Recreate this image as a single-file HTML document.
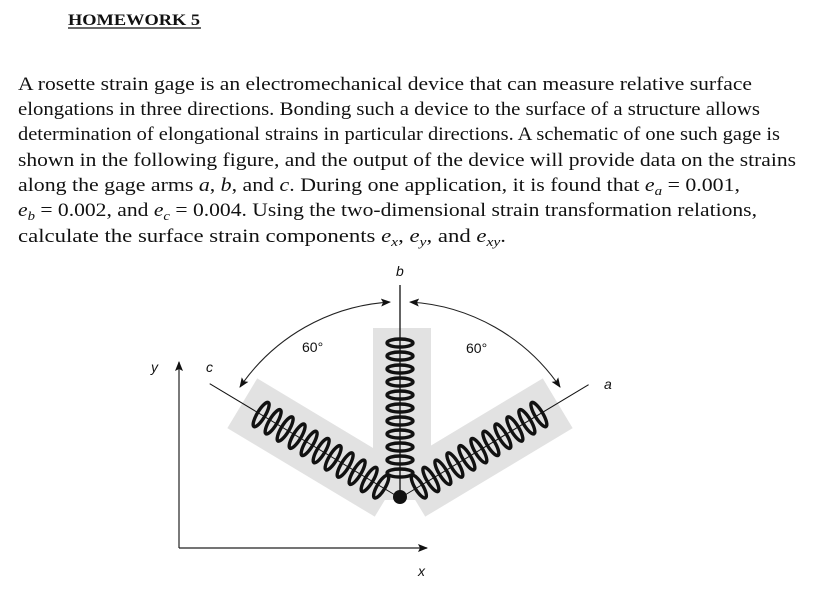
<!DOCTYPE html>
<html><head><meta charset="utf-8"><style>
html,body{margin:0;padding:0;background:#fff;}
svg{display:block}
.t{font-family:"Liberation Serif",serif;font-size:19px;fill:#111}
.s{font-family:"Liberation Sans",sans-serif;font-size:14px;fill:#111}
</style></head><body>
<svg width="813" height="592" viewBox="0 0 813 592" xmlns="http://www.w3.org/2000/svg">
<defs>
<marker id="ar" markerWidth="10" markerHeight="8" refX="9" refY="4" orient="auto-start-reverse" markerUnits="userSpaceOnUse">
<path d="M0,0 L10,4 L0,8 L2,4 Z" fill="#111"/></marker>
</defs>
<text x="68" y="25" font-family="Liberation Serif,serif" font-weight="bold" font-size="16" fill="#111" textLength="132" lengthAdjust="spacingAndGlyphs">HOMEWORK 5</text>
<line x1="68" y1="28" x2="201" y2="28" stroke="#111" stroke-width="1.2"/>
<text class="t" x="18" y="90" textLength="734" lengthAdjust="spacingAndGlyphs">A rosette strain gage is an electromechanical device that can measure relative surface</text>
<text class="t" x="18" y="115" textLength="742" lengthAdjust="spacingAndGlyphs">elongations in three directions. Bonding such a device to the surface of a structure allows</text>
<text class="t" x="18" y="140" textLength="762" lengthAdjust="spacingAndGlyphs">determination of elongational strains in particular directions. A schematic of one such gage is</text>
<text class="t" x="18" y="166" textLength="778" lengthAdjust="spacingAndGlyphs">shown in the following figure, and the output of the device will provide data on the strains</text>
<text class="t" x="18" y="191" textLength="722" lengthAdjust="spacingAndGlyphs">along the gage arms <tspan font-style="italic">a</tspan>, <tspan font-style="italic">b</tspan>, and <tspan font-style="italic">c</tspan>. During one application, it is found that <tspan font-style="italic">e</tspan><tspan font-style="italic" font-size="13" dy="4">a</tspan><tspan dy="-4"> = 0.001,</tspan></text>
<text class="t" x="18" y="216" textLength="739" lengthAdjust="spacingAndGlyphs"><tspan font-style="italic">e</tspan><tspan font-style="italic" font-size="13" dy="4">b</tspan><tspan dy="-4"> = 0.002, and </tspan><tspan font-style="italic">e</tspan><tspan font-style="italic" font-size="13" dy="4">c</tspan><tspan dy="-4"> = 0.004. Using the two-dimensional strain transformation relations,</tspan></text>
<text class="t" x="18" y="242" textLength="488" lengthAdjust="spacingAndGlyphs">calculate the surface strain components <tspan font-style="italic">e</tspan><tspan font-style="italic" font-size="13" dy="4">x</tspan><tspan dy="-4">, </tspan><tspan font-style="italic">e</tspan><tspan font-style="italic" font-size="13" dy="4">y</tspan><tspan dy="-4">, and </tspan><tspan font-style="italic">e</tspan><tspan font-style="italic" font-size="13" dy="4">xy</tspan><tspan dy="-4">.</tspan></text>

<line x1="179" y1="548" x2="179" y2="362" stroke="#222" stroke-width="1.2" marker-end="url(#ar)"/>
<line x1="179" y1="548" x2="427" y2="548" stroke="#222" stroke-width="1.2" marker-end="url(#ar)"/>
<text class="s" x="151" y="372" font-style="italic">y</text>
<text class="s" x="418" y="576" font-style="italic">x</text>
<text class="s" x="206" y="372" font-style="italic">c</text>
<text class="s" x="604" y="389" font-style="italic">a</text>
<text class="s" x="396" y="276" font-style="italic">b</text>

<rect x="373" y="328" width="58" height="172" fill="#e2e2e2"/>
<g transform="translate(400,498) rotate(-31)">
<rect x="12" y="-29" width="172" height="58" fill="#e2e2e2"/>
<line x1="0" y1="0" x2="220" y2="0" stroke="#111" stroke-width="1"/>
<g fill="none" stroke="#111" stroke-width="3.4">
<ellipse cx="22" cy="0" rx="4" ry="13"/><ellipse cx="36" cy="0" rx="4" ry="14"/><ellipse cx="50" cy="0" rx="4" ry="14"/><ellipse cx="64" cy="0" rx="4" ry="14"/><ellipse cx="78" cy="0" rx="4" ry="14"/><ellipse cx="92" cy="0" rx="4" ry="14"/><ellipse cx="106" cy="0" rx="4" ry="14"/><ellipse cx="120" cy="0" rx="4" ry="14"/><ellipse cx="134" cy="0" rx="4" ry="14"/><ellipse cx="148" cy="0" rx="4" ry="14"/><ellipse cx="162" cy="0" rx="4" ry="14"/>
</g></g>
<g transform="translate(400,498) scale(-1,1) rotate(-31)">
<rect x="12" y="-29" width="172" height="58" fill="#e2e2e2"/>
<line x1="0" y1="0" x2="222" y2="0" stroke="#111" stroke-width="1"/>
<g fill="none" stroke="#111" stroke-width="3.4">
<ellipse cx="22" cy="0" rx="4" ry="13"/><ellipse cx="36" cy="0" rx="4" ry="14"/><ellipse cx="50" cy="0" rx="4" ry="14"/><ellipse cx="64" cy="0" rx="4" ry="14"/><ellipse cx="78" cy="0" rx="4" ry="14"/><ellipse cx="92" cy="0" rx="4" ry="14"/><ellipse cx="106" cy="0" rx="4" ry="14"/><ellipse cx="120" cy="0" rx="4" ry="14"/><ellipse cx="134" cy="0" rx="4" ry="14"/><ellipse cx="148" cy="0" rx="4" ry="14"/><ellipse cx="162" cy="0" rx="4" ry="14"/>
</g></g>
<g fill="none" stroke="#111" stroke-width="3.4">
<ellipse cx="400" cy="343" rx="13" ry="4"/><ellipse cx="400" cy="356" rx="13" ry="4"/><ellipse cx="400" cy="369" rx="13" ry="4"/><ellipse cx="400" cy="382" rx="13" ry="4"/><ellipse cx="400" cy="395" rx="13" ry="4"/><ellipse cx="400" cy="408" rx="13" ry="4"/><ellipse cx="400" cy="421" rx="13" ry="4"/><ellipse cx="400" cy="434" rx="13" ry="4"/><ellipse cx="400" cy="447" rx="13" ry="4"/><ellipse cx="400" cy="460" rx="13" ry="4"/><ellipse cx="400" cy="473" rx="13" ry="4"/>
</g>
<line x1="400" y1="285" x2="400" y2="498" stroke="#111" stroke-width="1.3"/>
<circle cx="400" cy="497" r="7" fill="#111"/>

<path d="M390,302 A196,196 0 0 0 240,387" fill="none" stroke="#222" stroke-width="1.1" marker-start="url(#ar)" marker-end="url(#ar)"/>
<path d="M410,302 A196,196 0 0 1 560,387" fill="none" stroke="#222" stroke-width="1.1" marker-start="url(#ar)" marker-end="url(#ar)"/>
<text class="s" x="302" y="352">60°</text>
<text class="s" x="466" y="353">60°</text>
</svg>
</body></html>
